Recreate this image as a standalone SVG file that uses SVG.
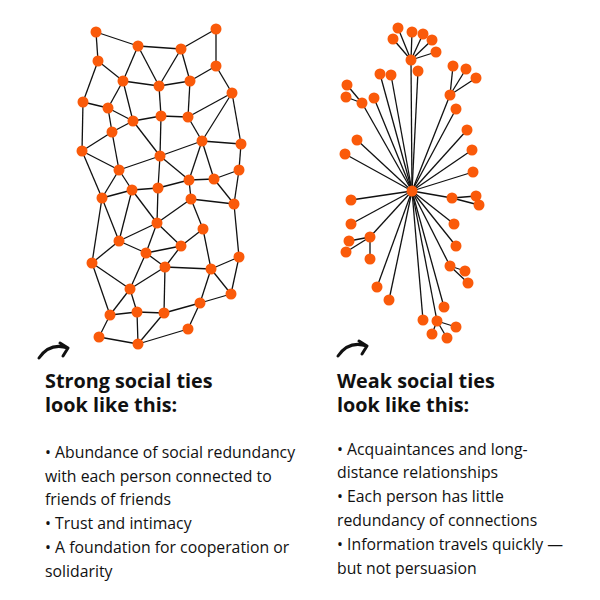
<svg xmlns="http://www.w3.org/2000/svg" width="600" height="600" viewBox="0 0 600 600">
<style>
.n{fill:#fa5a0a}
.e line{stroke:#111;stroke-width:1.3}
.h{font-family:"Open Sans","Liberation Sans",sans-serif;font-weight:bold;font-size:19.8px;fill:#111}
.t{font-family:"Open Sans","Liberation Sans",sans-serif;font-size:15.8px;fill:#111}
.ar{fill:none;stroke:#111;stroke-width:3;stroke-linecap:round;stroke-linejoin:round}
</style>
<rect width="600" height="600" fill="#fff"/>
<g class="e" id="connectors">
<line x1="96" y1="32" x2="138" y2="46"/><line x1="96" y1="32" x2="98" y2="61"/><line x1="138" y1="46" x2="181" y2="49"/><line x1="181" y1="49" x2="216" y2="29"/><line x1="216" y1="29" x2="216" y2="66"/><line x1="138" y1="46" x2="123" y2="81"/><line x1="138" y1="46" x2="159" y2="86"/><line x1="181" y1="49" x2="159" y2="86"/><line x1="181" y1="49" x2="190" y2="81"/><line x1="98" y1="61" x2="123" y2="81"/><line x1="98" y1="61" x2="83" y2="102"/><line x1="123" y1="81" x2="159" y2="86"/><line x1="123" y1="81" x2="108" y2="108"/><line x1="123" y1="81" x2="133" y2="121"/><line x1="159" y1="86" x2="190" y2="81"/><line x1="159" y1="86" x2="161" y2="116"/><line x1="190" y1="81" x2="216" y2="66"/><line x1="190" y1="81" x2="188" y2="117"/><line x1="216" y1="66" x2="232" y2="93"/><line x1="83" y1="102" x2="108" y2="108"/><line x1="83" y1="102" x2="82" y2="151"/><line x1="108" y1="108" x2="133" y2="121"/><line x1="108" y1="108" x2="112" y2="132"/><line x1="133" y1="121" x2="161" y2="116"/><line x1="161" y1="116" x2="188" y2="117"/><line x1="161" y1="116" x2="160" y2="156"/><line x1="188" y1="117" x2="232" y2="93"/><line x1="188" y1="117" x2="202" y2="141"/><line x1="232" y1="93" x2="202" y2="141"/><line x1="232" y1="93" x2="241" y2="144"/><line x1="133" y1="121" x2="160" y2="156"/><line x1="112" y1="132" x2="82" y2="151"/><line x1="112" y1="132" x2="133" y2="121"/><line x1="82" y1="151" x2="119" y2="170"/><line x1="112" y1="132" x2="119" y2="170"/><line x1="160" y1="156" x2="119" y2="170"/><line x1="160" y1="156" x2="202" y2="141"/><line x1="202" y1="141" x2="241" y2="144"/><line x1="202" y1="141" x2="189" y2="180"/><line x1="202" y1="141" x2="214" y2="179"/><line x1="241" y1="144" x2="239" y2="170"/><line x1="239" y1="170" x2="214" y2="179"/><line x1="214" y1="179" x2="189" y2="180"/><line x1="160" y1="156" x2="189" y2="180"/><line x1="160" y1="156" x2="158" y2="188"/><line x1="82" y1="151" x2="102" y2="198"/><line x1="119" y1="170" x2="102" y2="198"/><line x1="119" y1="170" x2="132" y2="190"/><line x1="102" y1="198" x2="132" y2="190"/><line x1="132" y1="190" x2="158" y2="188"/><line x1="158" y1="188" x2="189" y2="180"/><line x1="214" y1="179" x2="234" y2="204"/><line x1="189" y1="180" x2="191" y2="199"/><line x1="191" y1="199" x2="234" y2="204"/><line x1="239" y1="170" x2="234" y2="204"/><line x1="102" y1="198" x2="119" y2="241"/><line x1="102" y1="198" x2="92" y2="263"/><line x1="132" y1="190" x2="119" y2="241"/><line x1="132" y1="190" x2="157" y2="223"/><line x1="158" y1="188" x2="157" y2="223"/><line x1="157" y1="223" x2="191" y2="199"/><line x1="157" y1="223" x2="119" y2="241"/><line x1="157" y1="223" x2="146" y2="253"/><line x1="157" y1="223" x2="181" y2="246"/><line x1="191" y1="199" x2="203" y2="229"/><line x1="203" y1="229" x2="181" y2="246"/><line x1="203" y1="229" x2="211" y2="269"/><line x1="181" y1="246" x2="146" y2="253"/><line x1="181" y1="246" x2="165" y2="267"/><line x1="146" y1="253" x2="119" y2="241"/><line x1="146" y1="253" x2="130" y2="289"/><line x1="119" y1="241" x2="92" y2="263"/><line x1="92" y1="263" x2="130" y2="289"/><line x1="92" y1="263" x2="110" y2="315"/><line x1="165" y1="267" x2="211" y2="269"/><line x1="165" y1="267" x2="164" y2="313"/><line x1="165" y1="267" x2="130" y2="289"/><line x1="211" y1="269" x2="239" y2="257"/><line x1="211" y1="269" x2="200" y2="303"/><line x1="211" y1="269" x2="231" y2="294"/><line x1="239" y1="257" x2="234" y2="204"/><line x1="239" y1="257" x2="231" y2="294"/><line x1="231" y1="294" x2="200" y2="303"/><line x1="200" y1="303" x2="164" y2="313"/><line x1="200" y1="303" x2="188" y2="329"/><line x1="130" y1="289" x2="110" y2="315"/><line x1="130" y1="289" x2="137" y2="312"/><line x1="110" y1="315" x2="137" y2="312"/><line x1="137" y1="312" x2="164" y2="313"/><line x1="137" y1="312" x2="138" y2="344"/><line x1="110" y1="315" x2="99" y2="337"/><line x1="99" y1="337" x2="138" y2="344"/><line x1="164" y1="313" x2="138" y2="344"/><line x1="188" y1="329" x2="138" y2="344"/><line x1="146" y1="253" x2="165" y2="267"/>
<line x1="412" y1="191" x2="411" y2="60"/><line x1="411" y1="60" x2="398" y2="28"/><line x1="411" y1="60" x2="393" y2="39"/><line x1="411" y1="60" x2="412" y2="32"/><line x1="411" y1="60" x2="423" y2="34"/><line x1="411" y1="60" x2="432" y2="40"/><line x1="411" y1="60" x2="436" y2="52"/>
<line x1="412" y1="191" x2="418" y2="71"/><line x1="412" y1="191" x2="380" y2="74"/><line x1="412" y1="191" x2="391" y2="75"/><line x1="412" y1="191" x2="362" y2="103"/><line x1="362" y1="103" x2="347" y2="85"/><line x1="362" y1="103" x2="346" y2="97"/><line x1="412" y1="191" x2="374" y2="98"/>
<line x1="412" y1="191" x2="450" y2="95"/><line x1="450" y1="95" x2="453" y2="66"/><line x1="450" y1="95" x2="466" y2="69"/><line x1="450" y1="95" x2="476" y2="78"/>
<line x1="412" y1="191" x2="456" y2="109"/><line x1="412" y1="191" x2="467" y2="130"/><line x1="412" y1="191" x2="472" y2="150"/><line x1="412" y1="191" x2="473" y2="172"/><line x1="412" y1="191" x2="357" y2="140"/><line x1="412" y1="191" x2="345" y2="154"/>
<line x1="412" y1="191" x2="351" y2="200"/><line x1="412" y1="191" x2="452" y2="198"/><line x1="452" y1="198" x2="476" y2="196"/><line x1="452" y1="198" x2="479" y2="205"/><line x1="412" y1="191" x2="351" y2="224"/><line x1="412" y1="191" x2="454" y2="224"/>
<line x1="412" y1="191" x2="370" y2="237"/><line x1="370" y1="237" x2="349" y2="241"/><line x1="370" y1="237" x2="346" y2="252"/><line x1="370" y1="237" x2="370" y2="259"/>
<line x1="412" y1="191" x2="456" y2="246"/><line x1="412" y1="191" x2="450" y2="266"/><line x1="450" y1="266" x2="465" y2="271"/><line x1="450" y1="266" x2="468" y2="283"/>
<line x1="412" y1="191" x2="377" y2="287"/><line x1="412" y1="191" x2="389" y2="300"/><line x1="412" y1="191" x2="444" y2="307"/><line x1="412" y1="191" x2="423" y2="320"/><line x1="412" y1="191" x2="437" y2="321"/><line x1="437" y1="321" x2="456" y2="327"/><line x1="437" y1="321" x2="432" y2="334"/><line x1="437" y1="321" x2="447" y2="338"/>
</g>
<g id="strong-nodes" class="n">
<g id="s1"><circle cx="96" cy="32" r="5.5"/></g><g id="s2"><circle cx="216" cy="29" r="5.5"/></g><g id="s3"><circle cx="138" cy="46" r="5.5"/></g><g id="s4"><circle cx="181" cy="49" r="5.5"/></g><g id="s5"><circle cx="98" cy="61" r="5.5"/></g><g id="s6"><circle cx="216" cy="66" r="5.5"/></g><g id="s7"><circle cx="123" cy="81" r="5.5"/></g><g id="s8"><circle cx="159" cy="86" r="5.5"/></g><g id="s9"><circle cx="190" cy="81" r="5.5"/></g><g id="s10"><circle cx="232" cy="93" r="5.5"/></g><g id="s11"><circle cx="83" cy="102" r="5.5"/></g><g id="s12"><circle cx="108" cy="108" r="5.5"/></g><g id="s13"><circle cx="133" cy="121" r="5.5"/></g><g id="s14"><circle cx="161" cy="116" r="5.5"/></g><g id="s15"><circle cx="188" cy="117" r="5.5"/></g><g id="s16"><circle cx="112" cy="132" r="5.5"/></g><g id="s17"><circle cx="202" cy="141" r="5.5"/></g><g id="s18"><circle cx="241" cy="144" r="5.5"/></g><g id="s19"><circle cx="82" cy="151" r="5.5"/></g><g id="s20"><circle cx="160" cy="156" r="5.5"/></g><g id="s21"><circle cx="119" cy="170" r="5.5"/></g><g id="s22"><circle cx="239" cy="170" r="5.5"/></g><g id="s23"><circle cx="189" cy="180" r="5.5"/></g><g id="s24"><circle cx="214" cy="179" r="5.5"/></g><g id="s25"><circle cx="158" cy="188" r="5.5"/></g><g id="s26"><circle cx="102" cy="198" r="5.5"/></g><g id="s27"><circle cx="132" cy="190" r="5.5"/></g><g id="s28"><circle cx="191" cy="199" r="5.5"/></g><g id="s29"><circle cx="234" cy="204" r="5.5"/></g><g id="s30"><circle cx="157" cy="223" r="5.5"/></g><g id="s31"><circle cx="203" cy="229" r="5.5"/></g><g id="s32"><circle cx="119" cy="241" r="5.5"/></g><g id="s33"><circle cx="181" cy="246" r="5.5"/></g><g id="s34"><circle cx="146" cy="253" r="5.5"/></g><g id="s35"><circle cx="92" cy="263" r="5.5"/></g><g id="s36"><circle cx="165" cy="267" r="5.5"/></g><g id="s37"><circle cx="211" cy="269" r="5.5"/></g><g id="s38"><circle cx="239" cy="257" r="5.5"/></g><g id="s39"><circle cx="130" cy="289" r="5.5"/></g><g id="s40"><circle cx="231" cy="294" r="5.5"/></g><g id="s41"><circle cx="200" cy="303" r="5.5"/></g><g id="s42"><circle cx="110" cy="315" r="5.5"/></g><g id="s43"><circle cx="137" cy="312" r="5.5"/></g><g id="s44"><circle cx="164" cy="313" r="5.5"/></g><g id="s45"><circle cx="188" cy="329" r="5.5"/></g><g id="s46"><circle cx="99" cy="337" r="5.5"/></g><g id="s47"><circle cx="138" cy="344" r="5.5"/></g>
</g>
<g id="weak-nodes" class="n">
<g id="w0"><circle cx="412" cy="191" r="5.5"/></g><g id="w1"><circle cx="411" cy="60" r="5.5"/></g><g id="w2"><circle cx="398" cy="28" r="5.5"/></g><g id="w3"><circle cx="393" cy="39" r="5.5"/></g><g id="w4"><circle cx="412" cy="32" r="5.5"/></g><g id="w5"><circle cx="423" cy="34" r="5.5"/></g><g id="w6"><circle cx="432" cy="40" r="5.5"/></g><g id="w7"><circle cx="436" cy="52" r="5.5"/></g><g id="w8"><circle cx="418" cy="71" r="5.5"/></g><g id="w9"><circle cx="380" cy="74" r="5.5"/></g><g id="w10"><circle cx="391" cy="75" r="5.5"/></g><g id="w11"><circle cx="362" cy="103" r="5.5"/></g><g id="w12"><circle cx="347" cy="85" r="5.5"/></g><g id="w13"><circle cx="346" cy="97" r="5.5"/></g><g id="w14"><circle cx="374" cy="98" r="5.5"/></g><g id="w15"><circle cx="450" cy="95" r="5.5"/></g><g id="w16"><circle cx="453" cy="66" r="5.5"/></g><g id="w17"><circle cx="466" cy="69" r="5.5"/></g><g id="w18"><circle cx="476" cy="78" r="5.5"/></g><g id="w19"><circle cx="456" cy="109" r="5.5"/></g><g id="w20"><circle cx="467" cy="130" r="5.5"/></g><g id="w21"><circle cx="472" cy="150" r="5.5"/></g><g id="w22"><circle cx="473" cy="172" r="5.5"/></g><g id="w23"><circle cx="357" cy="140" r="5.5"/></g><g id="w24"><circle cx="345" cy="154" r="5.5"/></g><g id="w25"><circle cx="351" cy="200" r="5.5"/></g><g id="w26"><circle cx="452" cy="198" r="5.5"/></g><g id="w27"><circle cx="476" cy="196" r="5.5"/></g><g id="w28"><circle cx="479" cy="205" r="5.5"/></g><g id="w29"><circle cx="351" cy="224" r="5.5"/></g><g id="w30"><circle cx="454" cy="224" r="5.5"/></g><g id="w31"><circle cx="370" cy="237" r="5.5"/></g><g id="w32"><circle cx="349" cy="241" r="5.5"/></g><g id="w33"><circle cx="346" cy="252" r="5.5"/></g><g id="w34"><circle cx="370" cy="259" r="5.5"/></g><g id="w35"><circle cx="456" cy="246" r="5.5"/></g><g id="w36"><circle cx="450" cy="266" r="5.5"/></g><g id="w37"><circle cx="465" cy="271" r="5.5"/></g><g id="w38"><circle cx="468" cy="283" r="5.5"/></g><g id="w39"><circle cx="377" cy="287" r="5.5"/></g><g id="w40"><circle cx="389" cy="300" r="5.5"/></g><g id="w41"><circle cx="444" cy="307" r="5.5"/></g><g id="w42"><circle cx="423" cy="320" r="5.5"/></g><g id="w43"><circle cx="437" cy="321" r="5.5"/></g><g id="w44"><circle cx="456" cy="327" r="5.5"/></g><g id="w45"><circle cx="432" cy="334" r="5.5"/></g><g id="w46"><circle cx="447" cy="338" r="5.5"/></g>
</g>
<g id="arrows">
<path class="ar" d="M39,358 Q50,342 68,348 M60,343 L68,348 L63,356"/>
<path class="ar" d="M338,356 Q349,340 367,346 M359,341 L367,346 L362,354"/>
</g>
<g id="text-left">
<text class="h" x="45" y="388">Strong social ties</text>
<text class="h" x="45" y="412">look like this:</text>
<text class="t" x="45" y="458">• Abundance of social redundancy</text>
<text class="t" x="45" y="482">with each person connected to</text>
<text class="t" x="45" y="505">friends of friends</text>
<text class="t" x="45" y="529">• Trust and intimacy</text>
<text class="t" x="45" y="553">• A foundation for cooperation or</text>
<text class="t" x="45" y="577">solidarity</text>
</g>
<g id="text-right">
<text class="h" x="337" y="388">Weak social ties</text>
<text class="h" x="337" y="412">look like this:</text>
<text class="t" x="337" y="455">• Acquaintances and long-</text>
<text class="t" x="337" y="478">distance relationships</text>
<text class="t" x="337" y="502">• Each person has little</text>
<text class="t" x="337" y="526">redundancy of connections</text>
<text class="t" x="337" y="550">• Information travels quickly —</text>
<text class="t" x="337" y="574">but not persuasion</text>
</g>
</svg>
